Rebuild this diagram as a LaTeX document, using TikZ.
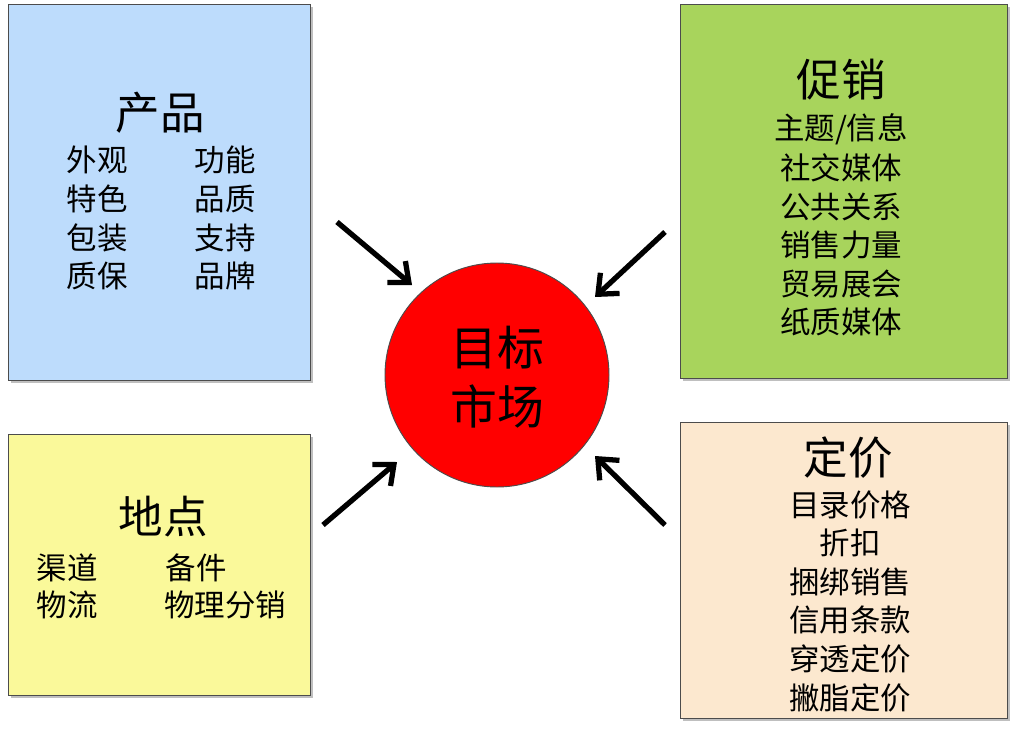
\documentclass[tikz,border=0pt]{standalone}
\usepackage{fontspec}
\usetikzlibrary{arrows.meta}
\newfontfamily\cjk{Noto Sans CJK SC}
\begin{document}
\begin{tikzpicture}[x=0.03cm,y=-0.03cm,
  box/.style={draw=black!70,line width=0.8pt},
  shad/.style={fill=black!25},
  ttl/.style={font=\cjk\fontsize{38pt}{40pt}\selectfont,inner sep=0},
  itm/.style={font=\cjk\fontsize{26pt}{28pt}\selectfont,inner sep=0},
  arr/.style={line width=4.5pt,-{Straight Barb[length=14pt,width=24pt,line width=4.5pt]}}]
\useasboundingbox (0,0) rectangle (1014,734);
\definecolor{cblue}{HTML}{BDDCFC}
\definecolor{cgreen}{HTML}{A8D45C}
\definecolor{cyellow}{HTML}{FAF99A}
\definecolor{cpeach}{HTML}{FCE8CF}
% shadows
\fill[shad] (11,7) rectangle (313,383);
\fill[shad] (683,7) rectangle (1010,381);
\fill[shad] (11,437) rectangle (313,698);
\fill[shad] (683,425) rectangle (1010,721);
\draw[box,fill=cblue] (8,4) rectangle (310,380);
\draw[box,fill=cgreen] (680,4) rectangle (1007,378);
\draw[box,fill=cyellow] (8,434) rectangle (310,695);
\draw[box,fill=cpeach] (680,422) rectangle (1007,718);
\node[circle,draw=black!70,line width=0.8pt,fill=red,minimum size=224*0.03cm,inner sep=0] (c) at (497,375) {};
\node[font=\cjk\fontsize{40pt}{50pt}\selectfont,align=center] (ct) at (497,377) {目标\\市场};
% product
\node[ttl] (p) at (160,113) {产品};
\node[itm] (p1) at (97,160) {外观};  \node[itm] (p2) at (225,160) {功能};
\node[itm] (p3) at (97,199) {特色};  \node[itm] (p4) at (225,199) {品质};
\node[itm] (p5) at (97,238) {包装};  \node[itm] (p6) at (225,238) {支持};
\node[itm] (p7) at (97,276) {质保};  \node[itm] (p8) at (225,276) {品牌};
% promotion
\node[ttl] (q) at (841,80) {促销};
\foreach \t [count=\i] in {主题/信息,社交媒体,公共关系,销售力量,贸易展会,纸质媒体}
  \node[itm] (q\i) at (841,91+38.5*\i) {\t};
% place
\node[ttl] (l) at (163,517) {地点};
\node[itm] (l1) at (67,568) {渠道}; \node[itm] (l2) at (196,568) {备件};
\node[itm] (l3) at (67,605) {物流}; \node[itm,anchor=west] (l4) at (164,605) {物理分销};
% price
\node[ttl] (r) at (848,458) {定价};
\foreach \t [count=\i] in {目录价格,折扣,捆绑销售,信用条款,穿透定价,撇脂定价}
  \node[itm] (r\i) at (850,466+38.6*\i) {\t};
% arrows
\coordinate (a1) at (337,222); \coordinate (b1) at (412,285);
\coordinate (a2) at (665,232); \coordinate (b2) at (595,297);
\coordinate (a3) at (323,525); \coordinate (b3) at (397,462);
\coordinate (a4) at (665,525); \coordinate (b4) at (595,456);
\draw[arr] (a1) -- (b1);
\draw[arr] (a2) -- (b2);
\draw[arr] (a3) -- (b3);
\draw[arr] (a4) -- (b4);
\end{tikzpicture}
\end{document}
